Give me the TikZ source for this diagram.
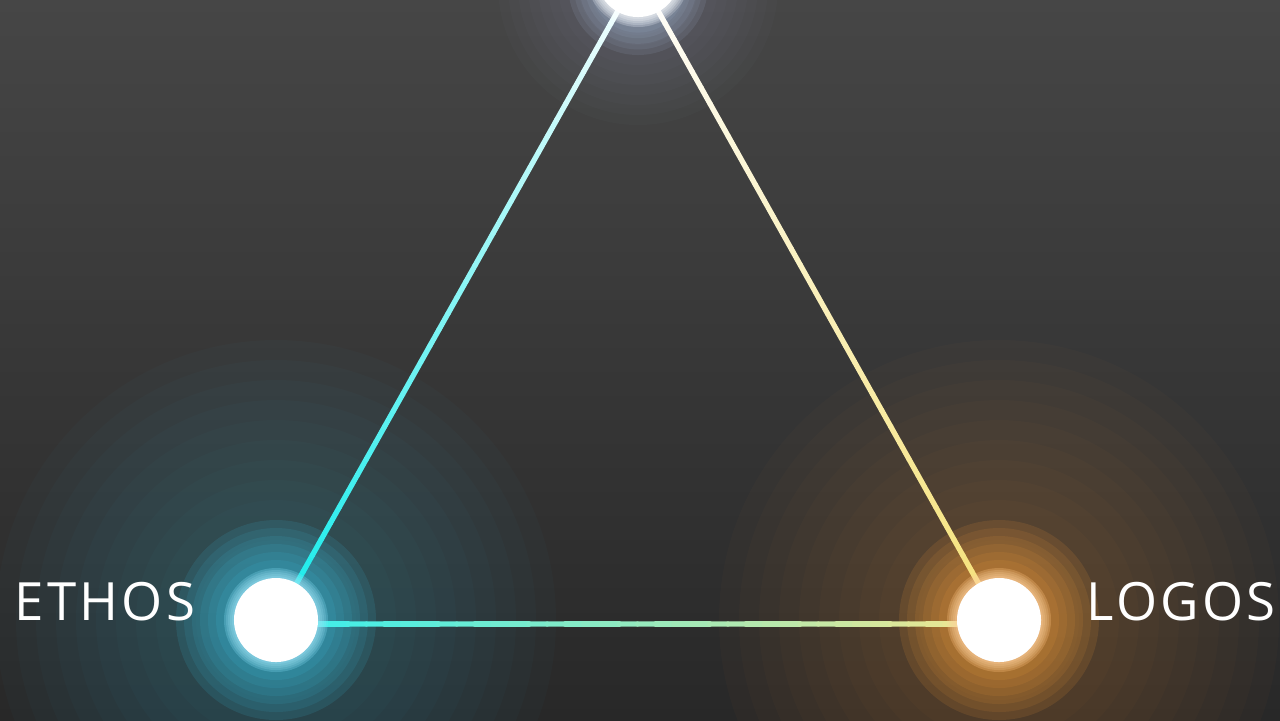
\documentclass[tikz,border=0pt]{standalone}
\usepackage{fontspec}
\setsansfont{Open Sans}
\usetikzlibrary{calc}
\definecolor{bgtop}{RGB}{70,70,70}
\definecolor{bgbot}{RGB}{40,40,40}
\definecolor{ethoscol}{RGB}{20,235,235}
\definecolor{logoscol}{RGB}{245,225,120}
\definecolor{ethosglow}{RGB}{60,200,235}
\definecolor{logosglow}{RGB}{255,165,60}
\definecolor{pathosglow}{RGB}{190,220,255}
\tikzset{
	vertex/.style={circle,fill=white,minimum size=0.84cm,inner sep=0pt},
	edge/.style={line width=1.5pt,line cap=round},
	label/.style={text=white,font=\sffamily\addfontfeature{LetterSpace=6}\fontsize{15}{15}\selectfont}
}
\begin{document}
\begin{tikzpicture}[x=0.01cm,y=-0.01cm]
	\useasboundingbox (0,0) rectangle (1280,720);
	\shade[top color=bgtop,bottom color=bgbot] (0,0) rectangle (1280,720);
	% glows
	\begin{scope}
	\clip (0,0) rectangle (1280,720);
	\foreach \r in {280,260,...,60} {
		\fill[ethosglow,opacity=0.025] (276,620) circle (\r);
		\fill[logosglow,opacity=0.025] (999,620) circle (\r);
		\fill[pathosglow,opacity=0.02] (638,-15) circle (\r*0.5);
	}
	\foreach \r in {100,92,...,44} {
		\fill[ethosglow,opacity=0.1] (276,620) circle (\r);
		\fill[logosglow,opacity=0.1] (999,620) circle (\r);
		\fill[pathosglow,opacity=0.08] (638,-15) circle (\r*0.7);
	}
	\end{scope}
	\path node[inner sep=0pt] (ethos) at (276,620) {}
	node[inner sep=0pt] (logos) at (999,620) {}
	node[inner sep=0pt] (pathos) at (638,-25) {};
	% edges
	\foreach \i [evaluate=\i as \p using 100-2.5*\i, evaluate=\i as \a using \i/40, evaluate=\i as \b using (\i+1)/40] in {0,...,39} {
		\draw[edge,color=ethoscol!\p!white] ($(ethos)!\a!(pathos)$) -- ($(ethos)!\b!(pathos)$);
		\draw[edge,color=logoscol!\p!white] ($(logos)!\a!(pathos)$) -- ($(logos)!\b!(pathos)$);
		\draw[edge,color=ethoscol!\p!logoscol!85!white] ($(ethos)!\a!(logos)+(0,4)$) -- ($(ethos)!\b!(logos)+(0,4)$);
	}
	% vertices
	\begin{scope}
	\clip (0,0) rectangle (1280,720);
	\foreach \r in {52,50,...,43} {
		\fill[ethosglow!50!white,opacity=0.2] (ethos) circle (\r);
		\fill[logosglow!50!white,opacity=0.2] (logos) circle (\r);
		\fill[white,opacity=0.2] (pathos) circle (\r);
	}
	\end{scope}
	\node[vertex] at (ethos) {};
	\node[vertex] at (logos) {};
	\node[vertex] at (pathos) {};
	\node[label] (ethoslabel) at (105,602) {ETHOS};
	\node[label] (logoslabel) at (1181,602) {LOGOS};
\end{tikzpicture}
\end{document}
